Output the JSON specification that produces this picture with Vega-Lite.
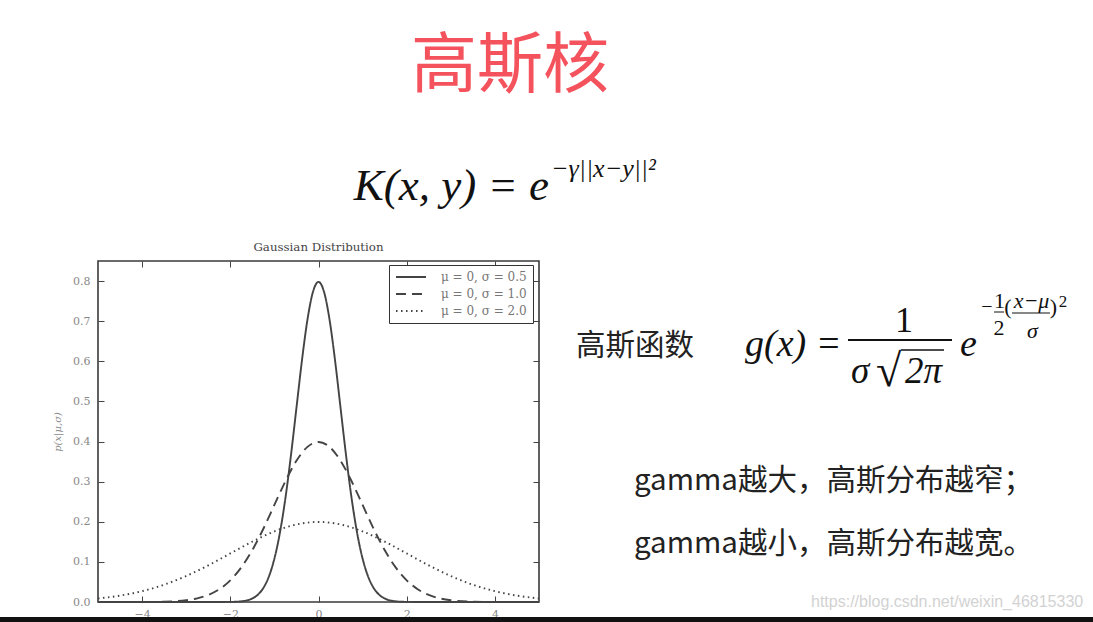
{
  "$schema": "https://vega.github.io/schema/vega-lite/v6.json",
  "description": "高斯核 slide: Gaussian Distribution plot with formulas",
  "background": "white",
  "padding": 0,
  "bounds": "flush",
  "spacing": 0,
  "config": {
    "view": {"stroke": "#3a3a3a", "strokeWidth": 1.6},
    "legend": {
      "title": null,
      "orient": "none",
      "legendX": 291,
      "legendY": 4,
      "strokeColor": "#333",
      "fillColor": "white",
      "padding": 6,
      "symbolType": "M-1,0H5",
      "symbolSize": 100,
      "symbolStrokeWidth": 2,
      "labelFont": "DejaVu Serif",
      "labelFontSize": 12,
      "labelColor": "#777",
      "labelOffset": 34,
      "rowPadding": 5
    }
  },
  "hconcat": [
    {
      "width": 441,
      "height": 341,
      "title": {
        "text": "Gaussian Distribution",
        "font": "DejaVu Serif",
        "fontSize": 11.8,
        "fontWeight": "normal",
        "color": "#444",
        "offset": 7
      },
      "data": {
        "values": [
          {"s": "μ = 0, σ = 0.5", "x": -5, "p": 0},
          {"s": "μ = 0, σ = 0.5", "x": -4, "p": 0},
          {"s": "μ = 0, σ = 0.5", "x": -3, "p": 0},
          {"s": "μ = 0, σ = 0.5", "x": -2.5, "p": 0},
          {"s": "μ = 0, σ = 0.5", "x": -2, "p": 0.0003},
          {"s": "μ = 0, σ = 0.5", "x": -1.75, "p": 0.0017},
          {"s": "μ = 0, σ = 0.5", "x": -1.5, "p": 0.0089},
          {"s": "μ = 0, σ = 0.5", "x": -1.375, "p": 0.0182},
          {"s": "μ = 0, σ = 0.5", "x": -1.25, "p": 0.0351},
          {"s": "μ = 0, σ = 0.5", "x": -1.125, "p": 0.0635},
          {"s": "μ = 0, σ = 0.5", "x": -1, "p": 0.108},
          {"s": "μ = 0, σ = 0.5", "x": -0.875, "p": 0.1726},
          {"s": "μ = 0, σ = 0.5", "x": -0.75, "p": 0.259},
          {"s": "μ = 0, σ = 0.5", "x": -0.625, "p": 0.3653},
          {"s": "μ = 0, σ = 0.5", "x": -0.5, "p": 0.4839},
          {"s": "μ = 0, σ = 0.5", "x": -0.375, "p": 0.6023},
          {"s": "μ = 0, σ = 0.5", "x": -0.25, "p": 0.7041},
          {"s": "μ = 0, σ = 0.5", "x": -0.125, "p": 0.7733},
          {"s": "μ = 0, σ = 0.5", "x": 0, "p": 0.7979},
          {"s": "μ = 0, σ = 0.5", "x": 0.125, "p": 0.7733},
          {"s": "μ = 0, σ = 0.5", "x": 0.25, "p": 0.7041},
          {"s": "μ = 0, σ = 0.5", "x": 0.375, "p": 0.6023},
          {"s": "μ = 0, σ = 0.5", "x": 0.5, "p": 0.4839},
          {"s": "μ = 0, σ = 0.5", "x": 0.625, "p": 0.3653},
          {"s": "μ = 0, σ = 0.5", "x": 0.75, "p": 0.259},
          {"s": "μ = 0, σ = 0.5", "x": 0.875, "p": 0.1726},
          {"s": "μ = 0, σ = 0.5", "x": 1, "p": 0.108},
          {"s": "μ = 0, σ = 0.5", "x": 1.125, "p": 0.0635},
          {"s": "μ = 0, σ = 0.5", "x": 1.25, "p": 0.0351},
          {"s": "μ = 0, σ = 0.5", "x": 1.375, "p": 0.0182},
          {"s": "μ = 0, σ = 0.5", "x": 1.5, "p": 0.0089},
          {"s": "μ = 0, σ = 0.5", "x": 1.75, "p": 0.0017},
          {"s": "μ = 0, σ = 0.5", "x": 2, "p": 0.0003},
          {"s": "μ = 0, σ = 0.5", "x": 2.5, "p": 0},
          {"s": "μ = 0, σ = 0.5", "x": 3, "p": 0},
          {"s": "μ = 0, σ = 0.5", "x": 4, "p": 0},
          {"s": "μ = 0, σ = 0.5", "x": 5, "p": 0},
          {"s": "μ = 0, σ = 1.0", "x": -5, "p": 0},
          {"s": "μ = 0, σ = 1.0", "x": -4.5, "p": 0},
          {"s": "μ = 0, σ = 1.0", "x": -4, "p": 0.0001},
          {"s": "μ = 0, σ = 1.0", "x": -3.5, "p": 0.0009},
          {"s": "μ = 0, σ = 1.0", "x": -3, "p": 0.0044},
          {"s": "μ = 0, σ = 1.0", "x": -2.75, "p": 0.0091},
          {"s": "μ = 0, σ = 1.0", "x": -2.5, "p": 0.0175},
          {"s": "μ = 0, σ = 1.0", "x": -2.25, "p": 0.0317},
          {"s": "μ = 0, σ = 1.0", "x": -2, "p": 0.054},
          {"s": "μ = 0, σ = 1.0", "x": -1.75, "p": 0.0863},
          {"s": "μ = 0, σ = 1.0", "x": -1.5, "p": 0.1295},
          {"s": "μ = 0, σ = 1.0", "x": -1.25, "p": 0.1826},
          {"s": "μ = 0, σ = 1.0", "x": -1, "p": 0.242},
          {"s": "μ = 0, σ = 1.0", "x": -0.75, "p": 0.3011},
          {"s": "μ = 0, σ = 1.0", "x": -0.5, "p": 0.3521},
          {"s": "μ = 0, σ = 1.0", "x": -0.25, "p": 0.3867},
          {"s": "μ = 0, σ = 1.0", "x": 0, "p": 0.3989},
          {"s": "μ = 0, σ = 1.0", "x": 0.25, "p": 0.3867},
          {"s": "μ = 0, σ = 1.0", "x": 0.5, "p": 0.3521},
          {"s": "μ = 0, σ = 1.0", "x": 0.75, "p": 0.3011},
          {"s": "μ = 0, σ = 1.0", "x": 1, "p": 0.242},
          {"s": "μ = 0, σ = 1.0", "x": 1.25, "p": 0.1826},
          {"s": "μ = 0, σ = 1.0", "x": 1.5, "p": 0.1295},
          {"s": "μ = 0, σ = 1.0", "x": 1.75, "p": 0.0863},
          {"s": "μ = 0, σ = 1.0", "x": 2, "p": 0.054},
          {"s": "μ = 0, σ = 1.0", "x": 2.25, "p": 0.0317},
          {"s": "μ = 0, σ = 1.0", "x": 2.5, "p": 0.0175},
          {"s": "μ = 0, σ = 1.0", "x": 2.75, "p": 0.0091},
          {"s": "μ = 0, σ = 1.0", "x": 3, "p": 0.0044},
          {"s": "μ = 0, σ = 1.0", "x": 3.5, "p": 0.0009},
          {"s": "μ = 0, σ = 1.0", "x": 4, "p": 0.0001},
          {"s": "μ = 0, σ = 1.0", "x": 4.5, "p": 0},
          {"s": "μ = 0, σ = 1.0", "x": 5, "p": 0},
          {"s": "μ = 0, σ = 2.0", "x": -5, "p": 0.0088},
          {"s": "μ = 0, σ = 2.0", "x": -4.5, "p": 0.0159},
          {"s": "μ = 0, σ = 2.0", "x": -4, "p": 0.027},
          {"s": "μ = 0, σ = 2.0", "x": -3.5, "p": 0.0431},
          {"s": "μ = 0, σ = 2.0", "x": -3, "p": 0.0648},
          {"s": "μ = 0, σ = 2.0", "x": -2.5, "p": 0.0913},
          {"s": "μ = 0, σ = 2.0", "x": -2, "p": 0.121},
          {"s": "μ = 0, σ = 2.0", "x": -1.5, "p": 0.1506},
          {"s": "μ = 0, σ = 2.0", "x": -1, "p": 0.176},
          {"s": "μ = 0, σ = 2.0", "x": -0.5, "p": 0.1933},
          {"s": "μ = 0, σ = 2.0", "x": 0, "p": 0.1995},
          {"s": "μ = 0, σ = 2.0", "x": 0.5, "p": 0.1933},
          {"s": "μ = 0, σ = 2.0", "x": 1, "p": 0.176},
          {"s": "μ = 0, σ = 2.0", "x": 1.5, "p": 0.1506},
          {"s": "μ = 0, σ = 2.0", "x": 2, "p": 0.121},
          {"s": "μ = 0, σ = 2.0", "x": 2.5, "p": 0.0913},
          {"s": "μ = 0, σ = 2.0", "x": 3, "p": 0.0648},
          {"s": "μ = 0, σ = 2.0", "x": 3.5, "p": 0.0431},
          {"s": "μ = 0, σ = 2.0", "x": 4, "p": 0.027},
          {"s": "μ = 0, σ = 2.0", "x": 4.5, "p": 0.0159},
          {"s": "μ = 0, σ = 2.0", "x": 5, "p": 0.0088}
        ]
      },
      "layer": [
        {
          "mark": {"type": "line", "interpolate": "monotone", "color": "#444", "strokeWidth": 1.9},
          "encoding": {
            "x": {
              "field": "x", "type": "quantitative",
              "scale": {"domain": [-5, 5], "nice": false, "zero": false},
              "axis": {
                "orient": "bottom", "values": [-4, -2, 0, 2, 4], "format": "d", "title": null,
                "grid": false, "domain": false, "tickSize": -6, "tickColor": "#444",
                "labelFont": "DejaVu Serif", "labelFontSize": 11, "labelColor": "#888", "labelPadding": 12
              }
            },
            "y": {
              "field": "p", "type": "quantitative",
              "scale": {"domain": [0, 0.85], "nice": false, "zero": true},
              "axis": {
                "orient": "left", "values": [0, 0.1, 0.2, 0.3, 0.4, 0.5, 0.6, 0.7, 0.8], "format": ".1f",
                "title": "p(x|μ,σ)", "titleFont": "DejaVu Serif", "titleFontStyle": "italic",
                "titleFontWeight": "normal", "titleFontSize": 10, "titleColor": "#888", "titlePadding": 10,
                "grid": false, "domain": false, "tickSize": -6, "tickColor": "#444",
                "labelFont": "DejaVu Serif", "labelFontSize": 11, "labelColor": "#888", "labelPadding": 14
              }
            },
            "strokeDash": {
              "field": "s", "type": "nominal",
              "scale": {
                "domain": ["μ = 0, σ = 0.5", "μ = 0, σ = 1.0", "μ = 0, σ = 2.0"],
                "range": [[1, 0], [10, 6], [1.5, 3.5]]
              },
              "legend": {}
            }
          }
        },
        {
          "mark": {"type": "line", "opacity": 0},
          "encoding": {
            "x": {
              "field": "x", "type": "quantitative",
              "axis": {
                "orient": "top", "values": [-4, -2, 0, 2, 4], "labels": false, "title": null,
                "grid": false, "domain": false, "tickSize": -6, "tickColor": "#444"
              }
            },
            "y": {
              "field": "p", "type": "quantitative",
              "axis": {
                "orient": "right", "values": [0.1, 0.2, 0.3, 0.4, 0.5, 0.6, 0.7, 0.8], "labels": false, "title": null,
                "grid": false, "domain": false, "tickSize": -6, "tickColor": "#444"
              }
            }
          }
        }
      ],
      "resolve": {"axis": {"x": "independent", "y": "independent"}}
    },
    {
      "width": 554,
      "height": 341,
      "view": {"stroke": null},
      "data": {"values": [{}]},
      "layer": [
        {
          "mark": {"type": "rect", "fill": "transparent"},
          "encoding": {
            "x": {"datum": 0, "type": "quantitative", "scale": {"domain": [539, 1093], "zero": false, "nice": false}, "axis": null},
            "x2": {"datum": 1093},
            "y": {"datum": 0, "type": "quantitative", "scale": {"domain": [261, 602], "reverse": true, "zero": false, "nice": false}, "axis": null},
            "y2": {"datum": 622}
          }
        },
        {
          "mark": {"type": "rect", "fill": "#111"},
          "encoding": {
            "x": {"datum": 0, "type": "quantitative", "axis": null},
            "x2": {"datum": 1093},
            "y": {"datum": 617, "type": "quantitative", "axis": null},
            "y2": {"datum": 622}
          }
        },
        {
          "mark": {"type": "text", "text": "高斯核", "font": "Noto Sans CJK SC", "fontSize": 66, "color": "#f4525c", "align": "center", "baseline": "alphabetic"},
          "encoding": {
            "x": {"datum": 510, "type": "quantitative", "axis": null},
            "y": {"datum": 87, "type": "quantitative", "axis": null}
          }
        },
        {
          "mark": {"type": "text", "text": "K(x, y) = e", "font": "Liberation Serif", "fontStyle": "italic", "fontSize": 45, "color": "#111", "align": "right", "baseline": "alphabetic"},
          "encoding": {
            "x": {"datum": 549, "type": "quantitative", "axis": null},
            "y": {"datum": 200, "type": "quantitative", "axis": null}
          }
        },
        {
          "mark": {"type": "text", "text": "−γ||x−y||²", "font": "Liberation Serif", "fontStyle": "italic", "fontSize": 26, "color": "#111", "align": "left", "baseline": "alphabetic"},
          "encoding": {
            "x": {"datum": 551, "type": "quantitative", "axis": null},
            "y": {"datum": 177, "type": "quantitative", "axis": null}
          }
        },
        {
          "mark": {"type": "text", "text": "高斯函数", "font": "Noto Sans CJK SC", "fontSize": 29.5, "color": "#222", "align": "left", "baseline": "alphabetic"},
          "encoding": {
            "x": {"datum": 576, "type": "quantitative", "axis": null},
            "y": {"datum": 355, "type": "quantitative", "axis": null}
          }
        },
        {
          "mark": {"type": "text", "text": "g(x) =", "font": "Liberation Serif", "fontStyle": "italic", "fontSize": 38, "color": "#111", "align": "left", "baseline": "alphabetic"},
          "encoding": {
            "x": {"datum": 745, "type": "quantitative", "axis": null},
            "y": {"datum": 356, "type": "quantitative", "axis": null}
          }
        },
        {
          "mark": {"type": "text", "text": "1", "font": "Liberation Serif", "fontSize": 36, "color": "#111", "align": "center", "baseline": "alphabetic"},
          "encoding": {
            "x": {"datum": 904, "type": "quantitative", "axis": null},
            "y": {"datum": 332, "type": "quantitative", "axis": null}
          }
        },
        {
          "mark": {"type": "rule", "color": "#111", "strokeWidth": 2},
          "encoding": {
            "x": {"datum": 848, "type": "quantitative", "axis": null},
            "x2": {"datum": 952},
            "y": {"datum": 340, "type": "quantitative", "axis": null}
          }
        },
        {
          "mark": {"type": "text", "text": "σ", "font": "Liberation Serif", "fontStyle": "italic", "fontSize": 37, "color": "#111", "align": "left", "baseline": "alphabetic"},
          "encoding": {
            "x": {"datum": 851, "type": "quantitative", "axis": null},
            "y": {"datum": 383, "type": "quantitative", "axis": null}
          }
        },
        {
          "mark": {"type": "text", "text": "√", "font": "Liberation Serif", "fontSize": 46, "color": "#111", "align": "left", "baseline": "alphabetic"},
          "encoding": {
            "x": {"datum": 876, "type": "quantitative", "axis": null},
            "y": {"datum": 386, "type": "quantitative", "axis": null}
          }
        },
        {
          "mark": {"type": "text", "text": "2π", "font": "Liberation Serif", "fontStyle": "italic", "fontSize": 37, "color": "#111", "align": "left", "baseline": "alphabetic"},
          "encoding": {
            "x": {"datum": 905, "type": "quantitative", "axis": null},
            "y": {"datum": 383, "type": "quantitative", "axis": null}
          }
        },
        {
          "mark": {"type": "rule", "color": "#111", "strokeWidth": 1.5},
          "encoding": {
            "x": {"datum": 901, "type": "quantitative", "axis": null},
            "x2": {"datum": 944},
            "y": {"datum": 350, "type": "quantitative", "axis": null}
          }
        },
        {
          "mark": {"type": "text", "text": "e", "font": "Liberation Serif", "fontStyle": "italic", "fontSize": 38, "color": "#111", "align": "left", "baseline": "alphabetic"},
          "encoding": {
            "x": {"datum": 960, "type": "quantitative", "axis": null},
            "y": {"datum": 356, "type": "quantitative", "axis": null}
          }
        },
        {
          "mark": {"type": "text", "text": "−", "font": "Liberation Serif", "fontSize": 20, "color": "#111", "align": "center", "baseline": "alphabetic"},
          "encoding": {
            "x": {"datum": 987, "type": "quantitative", "axis": null},
            "y": {"datum": 313, "type": "quantitative", "axis": null}
          }
        },
        {
          "mark": {"type": "text", "text": "1", "font": "Liberation Serif", "fontSize": 22, "color": "#111", "align": "center", "baseline": "alphabetic"},
          "encoding": {
            "x": {"datum": 999.5, "type": "quantitative", "axis": null},
            "y": {"datum": 308, "type": "quantitative", "axis": null}
          }
        },
        {
          "mark": {"type": "rule", "color": "#111", "strokeWidth": 1},
          "encoding": {
            "x": {"datum": 994, "type": "quantitative", "axis": null},
            "x2": {"datum": 1004},
            "y": {"datum": 312, "type": "quantitative", "axis": null}
          }
        },
        {
          "mark": {"type": "text", "text": "2", "font": "Liberation Serif", "fontSize": 22, "color": "#111", "align": "center", "baseline": "alphabetic"},
          "encoding": {
            "x": {"datum": 999, "type": "quantitative", "axis": null},
            "y": {"datum": 335, "type": "quantitative", "axis": null}
          }
        },
        {
          "mark": {"type": "text", "text": "(", "font": "Liberation Serif", "fontSize": 22, "color": "#111", "align": "center", "baseline": "alphabetic"},
          "encoding": {
            "x": {"datum": 1008, "type": "quantitative", "axis": null},
            "y": {"datum": 314, "type": "quantitative", "axis": null}
          }
        },
        {
          "mark": {"type": "text", "text": "x−μ", "font": "Liberation Serif", "fontStyle": "italic", "fontSize": 22, "color": "#111", "align": "center", "baseline": "alphabetic"},
          "encoding": {
            "x": {"datum": 1031.5, "type": "quantitative", "axis": null},
            "y": {"datum": 308, "type": "quantitative", "axis": null}
          }
        },
        {
          "mark": {"type": "rule", "color": "#111", "strokeWidth": 1},
          "encoding": {
            "x": {"datum": 1012, "type": "quantitative", "axis": null},
            "x2": {"datum": 1050},
            "y": {"datum": 313, "type": "quantitative", "axis": null}
          }
        },
        {
          "mark": {"type": "text", "text": "σ", "font": "Liberation Serif", "fontStyle": "italic", "fontSize": 22, "color": "#111", "align": "center", "baseline": "alphabetic"},
          "encoding": {
            "x": {"datum": 1032.5, "type": "quantitative", "axis": null},
            "y": {"datum": 338, "type": "quantitative", "axis": null}
          }
        },
        {
          "mark": {"type": "text", "text": ")", "font": "Liberation Serif", "fontSize": 22, "color": "#111", "align": "center", "baseline": "alphabetic"},
          "encoding": {
            "x": {"datum": 1053.5, "type": "quantitative", "axis": null},
            "y": {"datum": 314, "type": "quantitative", "axis": null}
          }
        },
        {
          "mark": {"type": "text", "text": "2", "font": "Liberation Serif", "fontSize": 17, "color": "#111", "align": "center", "baseline": "alphabetic"},
          "encoding": {
            "x": {"datum": 1063, "type": "quantitative", "axis": null},
            "y": {"datum": 307, "type": "quantitative", "axis": null}
          }
        },
        {
          "mark": {"type": "text", "text": "gamma越大，高斯分布越窄；", "font": "Noto Sans CJK SC", "fontSize": 29.5, "color": "#222", "align": "left", "baseline": "alphabetic"},
          "encoding": {
            "x": {"datum": 634, "type": "quantitative", "axis": null},
            "y": {"datum": 490, "type": "quantitative", "axis": null}
          }
        },
        {
          "mark": {"type": "text", "text": "gamma越小，高斯分布越宽。", "font": "Noto Sans CJK SC", "fontSize": 29.5, "color": "#222", "align": "left", "baseline": "alphabetic"},
          "encoding": {
            "x": {"datum": 634, "type": "quantitative", "axis": null},
            "y": {"datum": 553, "type": "quantitative", "axis": null}
          }
        },
        {
          "mark": {"type": "text", "text": "https://blog.csdn.net/weixin_46815330", "font": "Liberation Sans", "fontSize": 16, "color": "#d2d2d2", "align": "left", "baseline": "alphabetic"},
          "encoding": {
            "x": {"datum": 811, "type": "quantitative", "axis": null},
            "y": {"datum": 607, "type": "quantitative", "axis": null}
          }
        }
      ]
    }
  ]
}
